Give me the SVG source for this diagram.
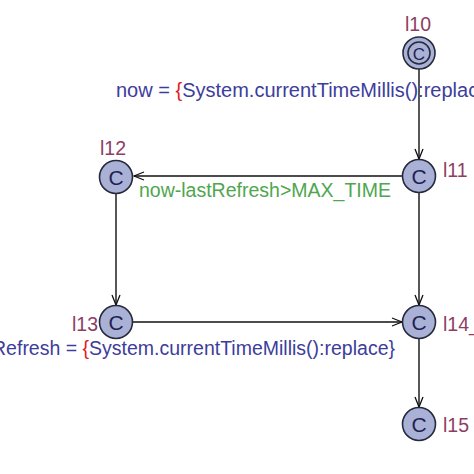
<svg xmlns="http://www.w3.org/2000/svg" width="474" height="474" viewBox="0 0 474 474">
<defs>
<style>
text{font-family:"Liberation Sans",Arial,sans-serif;font-size:19.5px}
.node{fill:#a9b1d6;stroke:#262a3a;stroke-width:1.6}
.ring{fill:none;stroke:#262a3a;stroke-width:1.6}
.c{fill:#1f2150;text-anchor:middle;font-size:21px}
.lbl{fill:#8e3d64}
.asg{fill:#3d3d9c}
.grd{fill:#4fa64f}
.red{fill:#e02020}
.edge{stroke:#111;stroke-width:1.4;fill:none;marker-end:url(#arr)}
</style>
<marker id="arr" viewBox="0 0 12 12" refX="11" refY="6" markerWidth="12" markerHeight="12" markerUnits="userSpaceOnUse" orient="auto">
<path d="M1,2 L11,6 L1,10" fill="none" stroke="#111" stroke-width="1.3"/>
</marker>
</defs>
<g id="edges">
<line class="edge" x1="419" y1="69" x2="419" y2="159"/>
<line class="edge" x1="402" y1="176" x2="134" y2="176"/>
<line class="edge" x1="116" y1="194" x2="116" y2="305"/>
<line class="edge" x1="133" y1="322" x2="402" y2="322"/>
<line class="edge" x1="419" y1="193" x2="419" y2="305"/>
<line class="edge" x1="419" y1="339" x2="419" y2="407"/>
<text x="116" y="97" class="asg" style="font-size:20px">now = <tspan class="red">{</tspan>System.currentTimeMillis():replace}</text>
<text x="139" y="197" class="grd">now-lastRefresh&gt;MAX_TIME</text>
<text x="395" y="355" class="asg" text-anchor="end">lastRefresh = <tspan class="red">{</tspan>System.currentTimeMillis():replace}</text>
</g>
<g id="l10">
<circle class="node" cx="419" cy="53" r="16"/>
<circle class="ring" cx="419" cy="53" r="11"/>
<text x="419" y="59.5" class="c" style="font-size:17px">C</text>
<text x="418" y="31" class="lbl" text-anchor="middle">l10</text>
</g>
<g id="l11">
<circle class="node" cx="419" cy="176" r="16.5"/>
<text x="419" y="183.5" class="c">C</text>
<text x="443" y="177" class="lbl">l11</text>
</g>
<g id="l12">
<circle class="node" cx="116" cy="177" r="16.5"/>
<text x="116" y="184.5" class="c">C</text>
<text x="100" y="155" class="lbl">l12</text>
</g>
<g id="l13">
<circle class="node" cx="116" cy="322" r="16.5"/>
<text x="116" y="329.5" class="c">C</text>
<text x="72" y="331" class="lbl">l13</text>
</g>
<g id="l14">
<circle class="node" cx="419" cy="322" r="16.5"/>
<text x="419" y="329.5" class="c">C</text>
<text x="443" y="331" class="lbl">l14_</text>
</g>
<g id="l15">
<circle class="node" cx="419" cy="424" r="16.5"/>
<text x="419" y="431.5" class="c">C</text>
<text x="443" y="432" class="lbl">l15</text>
</g>
</svg>
